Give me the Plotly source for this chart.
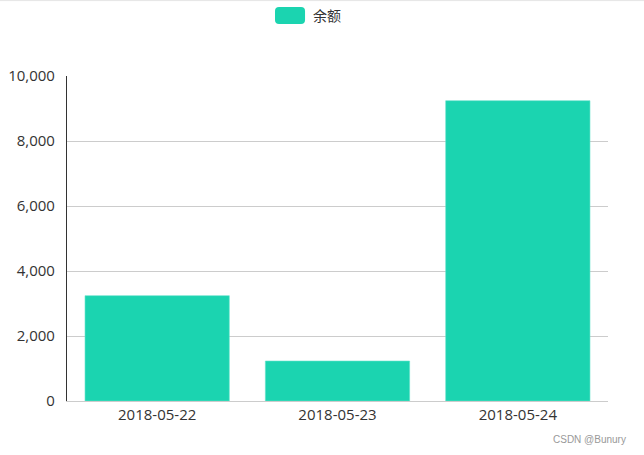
import plotly.graph_objects as go

# ── Datos ──────────────────────────────────────────────────────────────────
fechas = ["2018-05-22", "2018-05-23", "2018-05-24"]
saldo = [3240, 1230, 9240]
serie = "余额"
y_ticks = [0, 2000, 4000, 6000, 8000, 10000]

BAR = "#1bd4b0"
TXT = "#333333"
FONT = "Open Sans, Noto Sans CJK SC, sans-serif"

fig = go.Figure()
fig.add_trace(go.Bar(
    x=fechas, y=saldo, name=serie,
    marker=dict(color=BAR, line=dict(color="#5fe3c9", width=0.6)),
    showlegend=False,
))

# leyenda dibujada a mano (rectangulo redondeado al estilo echarts)
x0, x1, y0, y1, rx, ry = 0.3845, 0.44, 1.16, 1.212, 0.0074, 0.0123
fig.add_shape(
    type="path", xref="paper", yref="paper",
    path=(f"M {x0+rx},{y1} L {x1-rx},{y1} Q {x1},{y1} {x1},{y1-ry} "
          f"L {x1},{y0+ry} Q {x1},{y0} {x1-rx},{y0} L {x0+rx},{y0} "
          f"Q {x0},{y0} {x0},{y0+ry} L {x0},{y1-ry} Q {x0},{y1} {x0+rx},{y1} Z"),
    fillcolor=BAR, line=dict(width=0),
)
fig.add_annotation(
    text=serie, x=0.451, y=1.188, xref="paper", yref="paper",
    xanchor="left", yanchor="middle", showarrow=False,
    font=dict(size=14, color=TXT, family="Noto Sans CJK SC"),
)
fig.add_annotation(
    text="CSDN @Bunury", x=1.037, y=-0.117, xref="paper", yref="paper",
    xanchor="right", yanchor="middle", showarrow=False,
    font=dict(size=10, color="#999999", family="Liberation Sans, Arial"),
)
fig.add_shape(type="line", xref="paper", yref="paper",
              x0=-0.2, x1=1.2, y0=1.232, y1=1.232,
              line=dict(color="#e5e5e5", width=1))

fig.update_layout(
    width=644, height=455,
    margin=dict(l=67, r=36, t=76, b=54, autoexpand=False),
    paper_bgcolor="white", plot_bgcolor="white",
    font=dict(family=FONT, color=TXT, size=15),
    bargap=0.2,
)
fig.update_xaxes(
    type="category", automargin=False,
    showline=True, linecolor="#cccccc", linewidth=1,
    ticks="", tickfont=dict(size=15, color=TXT), showgrid=False,
)
fig.update_yaxes(
    range=[0, 10000], tickvals=y_ticks, tickformat=",", automargin=False,
    showline=True, linecolor="#333333", linewidth=1.2,
    gridcolor="#cccccc", gridwidth=1, zeroline=False,
    ticks="", tickfont=dict(size=15, color=TXT), ticklabelstandoff=8,
)

fig.write_html("out.html", config={"displayModeBar": False},
               post_script="document.body.style.margin='0';")
